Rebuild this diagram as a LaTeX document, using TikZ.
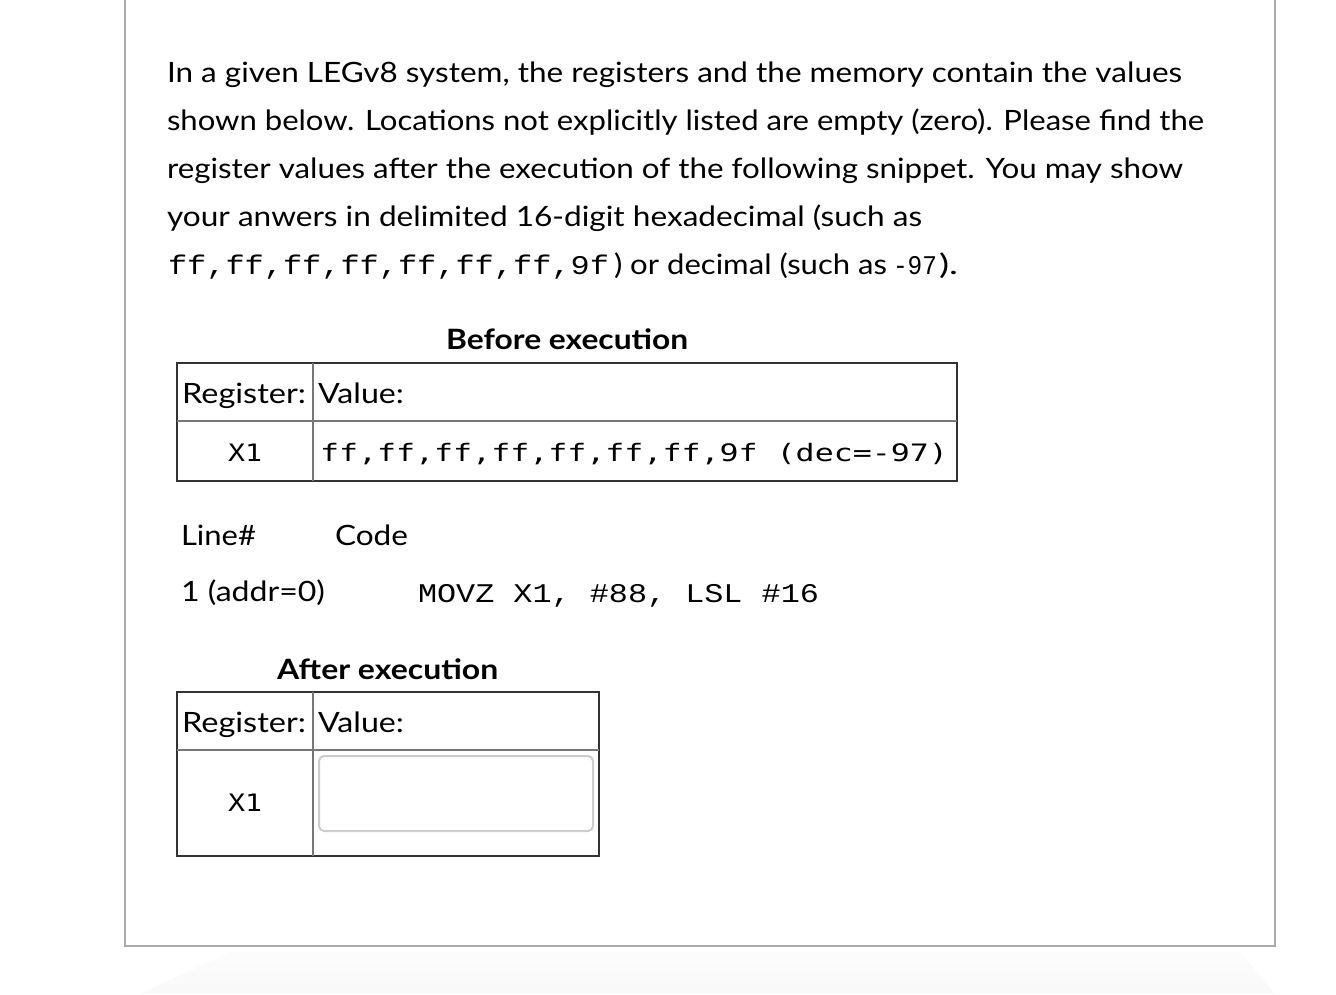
\documentclass[tikz,border=0pt]{standalone}
\usepackage{fontspec}
\usepackage{graphicx}
\setmainfont{Lato}
\newfontfamily\hexfont{DejaVu Sans Mono}
\newfontfamily\typefont{Liberation Mono}
\definecolor{panelgray}{HTML}{AAAAAA}
\definecolor{outerline}{HTML}{333333}
\definecolor{innerline}{HTML}{777777}
\definecolor{inputline}{HTML}{CCCCCC}
\newcommand{\fitw}[2]{\resizebox{#1}{\height}{#2}}
\tikzset{
  txt/.style={anchor=base west, inner sep=0pt, outer sep=0pt, font=\fontsize{28}{34}\selectfont},
  hex/.style={anchor=base west, inner sep=0pt, outer sep=0pt, font=\fontsize{24}{28}\selectfont\hexfont},
  typew/.style={anchor=base west, inner sep=0pt, outer sep=0pt, font=\fontsize{27}{30}\selectfont\typefont},
  heading/.style={anchor=base west, inner sep=0pt, font=\fontsize{28}{34}\selectfont\bfseries},
  outer/.style={draw=outerline, line width=2pt},
  inner/.style={draw=innerline, line width=2pt},
}
\begin{document}
\begin{tikzpicture}[x=1pt,y=-1pt]
\useasboundingbox (0,0) rectangle (1336,994);
% shadow under panel
\shade[top color=black!1, bottom color=black!2.5] (230,952) -- (1240,952) -- (1275,994) -- (140,994) -- cycle;
% panel
\draw[panelgray, line width=2pt] (125,-5) -- (125,946) -- (1275,946) -- (1275,-5);

% paragraph
\node[txt] (l1) at (167,82) {\fitw{1015pt}{In a given LEGv8 system, the registers and the memory contain the values}};
\node[txt] (l2) at (167,130) {\fitw{1037pt}{shown below. Locations not explicitly listed are empty (zero). Please find the}};
\node[txt] (l3) at (167,178) {\fitw{1016pt}{register values after the execution of the following snippet. You may show}};
\node[txt] (l4) at (167,226) {\fitw{755pt}{your anwers in delimited 16-digit hexadecimal (such as}};
\node[typew] (l5a) at (168,274) {\fitw{441pt}{ff,ff,ff,ff,ff,ff,ff,9f}};
\node[txt] (l5b) at (614,274) {\fitw{273pt}{) or decimal (such as}};
\node[typew] (l5c) at (893,274) {\fitw{44pt}{-97}};
\node[txt] (l5d) at (939,274) {\fitw{19pt}{).}};

% before execution
\node[heading] (before) at (446,349) {\fitw{242pt}{Before execution}};
\draw[outer] (177,363) rectangle (957,481);
\draw[inner] (177,421) -- (957,421);
\draw[inner] (313,363) -- (313,481);
\node[txt] (t1reg) at (182,403) {\fitw{124pt}{Register:}};
\node[txt] (t1val) at (318,403) {\fitw{86pt}{Value:}};
\node[hex] (t1x1) at (228,461) {\fitw{34pt}{X1}};
\node[hex] (t1hex) at (320,461) {\fitw{628pt}{ff,ff,ff,ff,ff,ff,ff,9f (dec=-97)}};

% code
\node[txt] (lineh) at (181,545) {\fitw{75pt}{Line\#}};
\node[txt] (codeh) at (335,545) {\fitw{73pt}{Code}};
\node[txt] (line1) at (181,601) {\fitw{144pt}{1 (addr=0)}};
\node[typew] (code1) at (418,602) {\fitw{401pt}{MOVZ X1, \#88, LSL \#16}};

% after execution
\node[heading] (after) at (277,679) {\fitw{221pt}{After execution}};
\draw[outer] (177,692) rectangle (599,856);
\draw[inner] (177,750) -- (599,750);
\draw[inner] (313,692) -- (313,856);
\node[txt] (t2reg) at (182,732) {\fitw{124pt}{Register:}};
\node[txt] (t2val) at (318,732) {\fitw{86pt}{Value:}};
\node[hex] (t2x1) at (228,811) {\fitw{34pt}{X1}};
\draw[inputline, line width=2pt, rounded corners=5pt] (319,756) rectangle (593,831);
\end{tikzpicture}
\end{document}
